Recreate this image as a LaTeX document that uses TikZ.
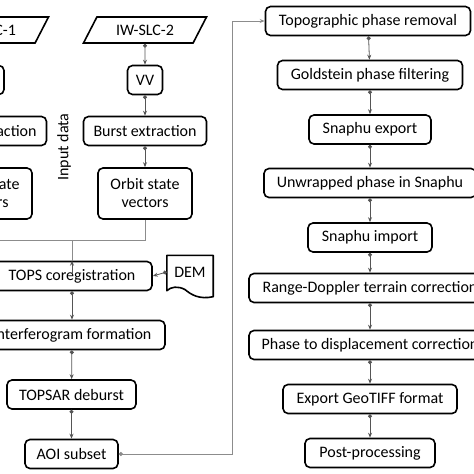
\documentclass[tikz,border=0pt]{standalone}
\usepackage{fontspec}
\setmainfont{Carlito}
\usepackage{tikz}
\usetikzlibrary{arrows.meta, positioning, shapes.geometric}
\tikzset{every node/.style={font=\fontsize{16}{18}\selectfont}}
\definecolor{flowgray}{HTML}{555555}
\definecolor{loopgray}{HTML}{8C8C8C}

\begin{document}
\begin{tikzpicture}[
        x=1pt, y=-1pt,
        stepbox/.style={draw, line width=1.6pt, rounded corners=5pt, minimum height=29pt, inner xsep=4pt, align=center},
        inbox/.style={draw, line width=1.6pt, trapezium, trapezium left angle=52, trapezium right angle=128, trapezium stretches body, minimum height=26pt, minimum width=123pt},
        flow/.style={draw=flowgray, line width=0.8pt, {Circle[length=4pt]}-{Stealth[length=5pt, width=4pt]}},
        mergeline/.style={draw=loopgray, line width=1pt},
      ]
        \useasboundingbox (0,0) rectangle (474,474);
        \clip (0,0) rectangle (474,474);

        % input data, two columns
        \node[inbox] (slc1) at (-13,30) {IW-SLC-1};
        \node[inbox] (slc2) at (145,30) {IW-SLC-2};
        \node[stepbox, minimum width=38pt] (vv1) at (-15,80) {VV};
        \node[stepbox, minimum width=35pt] (vv2) at (145,80) {VV};
        \node[stepbox, minimum width=123pt] (burst1) at (-15,131) {Burst extraction};
        \node[stepbox, minimum width=123pt] (burst2) at (145,131) {Burst extraction};
        \node[stepbox, minimum width=94pt, minimum height=51pt] (orbit1) at (-15,193.5) {Orbit state\\vectors};
        \node[stepbox, minimum width=94pt, minimum height=51pt] (orbit2) at (145,193.5) {Orbit state\\vectors};
        \node[rotate=90] (input) at (64,147) {Input data};

        % interferometric processing
        \node[stepbox, minimum width=160pt] (coreg) at (72,276) {TOPS coregistration};
        \node[minimum width=46pt, minimum height=33pt, inner sep=0pt] (dem) at (190,272) {DEM};
        \node[stepbox, minimum width=186pt] (ifg) at (72,335) {Interferogram formation};
        \node[stepbox, minimum width=129pt] (deburst) at (71.5,394.5) {TOPSAR deburst};
        \node[stepbox, minimum width=93pt] (aoi) at (71.5,454) {AOI subset};

        % unwrapping and geocoding
        \node[stepbox, minimum width=205pt] (topo) at (368,21) {Topographic phase removal};
        \node[stepbox, minimum width=185pt] (gold) at (370,75) {Goldstein phase filtering};
        \node[stepbox, minimum width=122pt] (export) at (370,129.5) {Snaphu export};
        \node[stepbox, minimum width=212pt] (unwrap) at (370,183) {Unwrapped phase in Snaphu};
        \node[stepbox, minimum width=124pt] (import) at (370,237.5) {Snaphu import};
        \node[stepbox, minimum width=242pt] (rdtc) at (370,288) {Range-Doppler terrain correction};
        \node[stepbox, minimum width=242pt] (disp) at (370,345) {Phase to displacement correction};
        \node[stepbox, minimum width=174pt] (tiff) at (370,399) {Export GeoTIFF format};
        \node[stepbox, minimum width=130pt] (post) at (370,453) {Post-processing};

        % DEM sheet
        \draw[line width=1.6pt, line join=round] (dem.north west) -- (dem.north east) -- ([yshift=-8pt]dem.south east)
          .. controls ([xshift=-14pt, yshift=-11pt]dem.south east) and ([xshift=-22pt, yshift=-6pt]dem.south east) .. ([xshift=-28pt, yshift=-1pt]dem.south east)
          .. controls ([xshift=-35pt, yshift=3pt]dem.south east) and ([xshift=4pt, yshift=2pt]dem.south west) .. ([yshift=-2pt]dem.south west) -- cycle;

        \draw[flow] (slc2) -- (vv2);
        \draw[flow] (vv2) -- (burst2);
        \draw[flow] (burst2) -- (orbit2);
        \draw[mergeline] (orbit2.south) -- ++(0,21) coordinate (m2) -| (coreg.north);
        \draw[mergeline] (orbit1.south) -- ++(0,21) coordinate (m1) -| (coreg.north);
        \draw[flowgray, line width=0.8pt, -{Stealth[length=5pt, width=4pt]}] ([yshift=-12pt]coreg.north) -- (coreg.north);
        \draw[flow] (dem.west) -- (coreg.east);
        \draw[flow] (coreg) -- (ifg);
        \draw[flow] (ifg) -- (deburst);
        \draw[flow] (deburst) -- (aoi);
        \draw[mergeline, {Circle[length=4pt]}-{Stealth[length=5pt, width=4pt]}] (aoi.east) -- (232,454) |- (topo.west);

        \draw[flow] (topo) -- (gold);
        \draw[flow] (gold) -- (export);
        \draw[flow] (export) -- (unwrap);
        \draw[flow] (unwrap) -- (import);
        \draw[flow] (import) -- (rdtc);
        \draw[flow] (rdtc) -- (disp);
        \draw[flow] (disp) -- (tiff);
        \draw[flow] (tiff) -- (post);
      \end{tikzpicture}
\end{document}
